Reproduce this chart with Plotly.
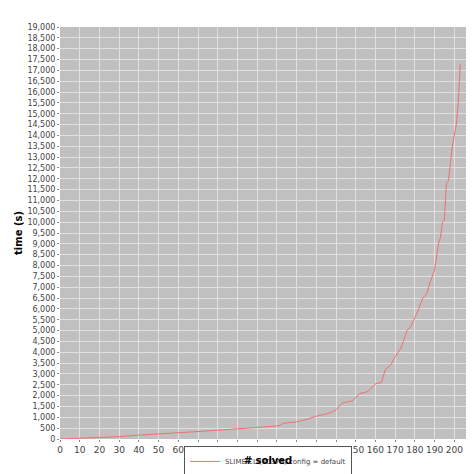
import plotly.graph_objects as go

solved = [0, 10, 20, 30, 40, 50, 60, 70, 80, 90, 100, 110, 112, 113, 120, 125, 130, 135, 137, 140,
          143, 145, 148, 150, 152, 155, 157, 160, 163, 165, 168, 170, 173, 176, 178, 180, 182,
          184, 186, 188, 190, 192, 193, 194, 195, 196, 197, 199, 201, 202, 203]
times = [0, 30, 70, 110, 180, 230, 280, 340, 400, 470, 530, 600, 640, 720, 790, 900, 1050, 1150, 1200, 1350,
         1650, 1700, 1750, 1900, 2100, 2150, 2250, 2550, 2600, 3200, 3450, 3800, 4200, 5000, 5200, 5600, 6000,
         6500, 6700, 7300, 7800, 9000, 9300, 10000, 10100, 11800, 11900, 13500, 14500, 15500, 17300]

fig = go.Figure([go.Scatter(x=solved, y=times, mode='lines',
                            line=dict(color='#f07070', width=1),
                            name='SLIME CLI(30375) config = default')])
fig.update_layout(width=474, height=474, paper_bgcolor='white', plot_bgcolor='#c0c0c0',
                  margin=dict(l=52, r=6, t=19, b=43, autoexpand=False),
                  font=dict(family='DejaVu Sans', size=9, color='#444'),
                  showlegend=True,
                  legend=dict(x=0.5, xanchor='center', y=-0.092, yanchor='bottom',
                              bordercolor='#555', borderwidth=1, font=dict(size=7),
                              itemwidth=30, tracegroupgap=0))
fig.update_xaxes(range=[0, 211], dtick=10, showgrid=True, gridcolor='#e0e0e0', gridwidth=1,
                 title=dict(text='<b># solved</b>', standoff=0, font=dict(size=10, color='black')),
                 ticks='outside', ticklen=2, tickcolor='#888', zeroline=False)
fig.update_yaxes(range=[0, 19000], dtick=500, tickformat=',', showgrid=True, gridcolor='#e0e0e0',
                 title=dict(text='<b>time (s)</b>', standoff=2, font=dict(size=10, color='black')),
                 ticks='outside', ticklen=2, tickcolor='#888', zeroline=False, tickfont=dict(size=8))
fig.write_html("out.html")
